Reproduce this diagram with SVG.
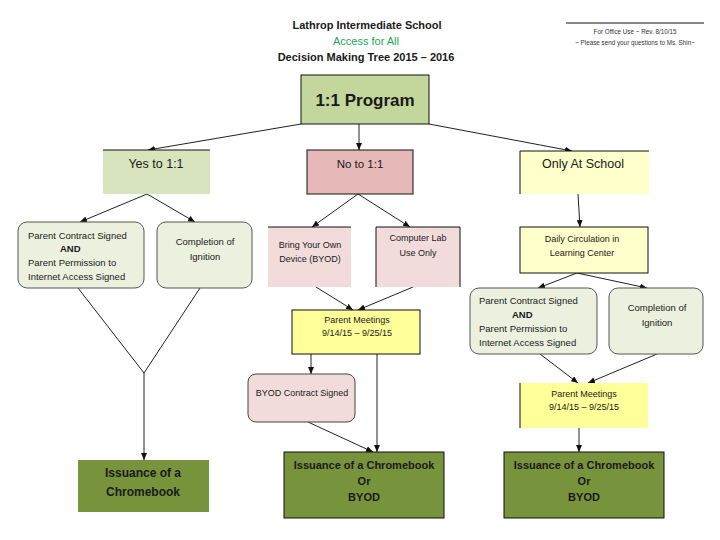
<svg xmlns="http://www.w3.org/2000/svg" width="720" height="540" viewBox="0 0 720 540">
<defs>
<style>
text{font-family:"Liberation Sans",Arial,sans-serif;fill:#1a1a1a;}
.hd{font-size:11px;font-weight:bold;text-anchor:middle;}
.grn{font-size:11px;fill:#1fa55a;text-anchor:middle;}
.tiny{font-size:6.3px;text-anchor:middle;fill:#333;}
.big{font-size:17px;font-weight:bold;text-anchor:middle;}
.lab{font-size:12.5px;text-anchor:middle;}
.sm{font-size:9.5px;}
.smc{font-size:9.5px;text-anchor:middle;}
.xs{font-size:9px;text-anchor:middle;}
.iss{font-size:11px;font-weight:bold;text-anchor:middle;}
.iss2{font-size:12px;font-weight:bold;text-anchor:middle;}
.b{stroke:#111;stroke-width:1;}
.rnd{fill:#ebf1de;stroke:#555;stroke-width:1;}
.pink{fill:#f2dcdb;}
.pm{fill:#ffff99;}
.issf{fill:#77933c;}
.c line,.c polyline{stroke:#222;stroke-width:1;fill:none;}
.c .a{marker-end:url(#ah);}
</style>
<marker id="ah" markerWidth="7" markerHeight="6" refX="7" refY="3" orient="auto" markerUnits="userSpaceOnUse">
<path d="M0,0 L7,3 L0,6 z" fill="#111"/>
</marker>
</defs>
<rect width="720" height="540" fill="#ffffff"/>

<g id="header">
<text class="hd" x="367" y="29">Lathrop Intermediate School</text>
<text class="grn" x="366" y="45">Access for All</text>
<text class="hd" x="366" y="61">Decision Making Tree 2015 – 2016</text>
<line x1="566" y1="23" x2="704" y2="23" stroke="#111" stroke-width="1"/>
<text class="tiny" x="635" y="34">For Office Use ~ Rev. 8/10/15</text>
<text class="tiny" x="635" y="45">~ Please send your questions to Ms. Shin~</text>
</g>

<g class="c" id="connectors">
<line class="a" x1="301" y1="124" x2="148" y2="150"/>
<line class="a" x1="359" y1="124" x2="359" y2="150"/>
<line class="a" x1="429" y1="124" x2="572" y2="151"/>
<line class="a" x1="147" y1="194" x2="80" y2="222"/>
<line class="a" x1="147" y1="194" x2="195" y2="222"/>
<polyline points="78,288 144,373 200,288"/>
<line class="a" x1="144" y1="373" x2="144" y2="460"/>
<line class="a" x1="358" y1="194" x2="312" y2="227"/>
<line class="a" x1="358" y1="194" x2="410" y2="227"/>
<line class="a" x1="316" y1="287" x2="353" y2="310"/>
<line class="a" x1="413" y1="287" x2="358" y2="310"/>
<line class="a" x1="311" y1="354" x2="311" y2="374"/>
<line class="a" x1="377" y1="354" x2="377" y2="452"/>
<line class="a" x1="308" y1="422" x2="373" y2="452"/>
<line class="a" x1="578" y1="194" x2="580" y2="227"/>
<line class="a" x1="577" y1="273" x2="538" y2="288"/>
<line class="a" x1="577" y1="273" x2="647" y2="288"/>
<line class="a" x1="540" y1="354" x2="578" y2="383"/>
<line class="a" x1="657" y1="354" x2="588" y2="383"/>
<line class="a" x1="579" y1="428" x2="579" y2="452"/>
</g>

<g id="program">
<rect x="301" y="75" width="128" height="49" fill="#c3d69b" class="b"/>
<text class="big" x="365" y="106">1:1 Program</text>
</g>

<g id="yes">
<rect x="103" y="150" width="107" height="44" fill="#d7e4bd"/>
<line x1="103" y1="150" x2="210" y2="150" class="b"/>
<text class="lab" x="156" y="168">Yes to 1:1</text>
</g>

<g id="no">
<rect x="307" y="150" width="106" height="44" fill="#e6b9b8" class="b"/>
<text class="lab" x="360" y="168" style="font-size:11.5px">No to 1:1</text>
</g>

<g id="school">
<rect x="520" y="151" width="129" height="43" fill="#ffffcc"/>
<polyline points="520,194 520,151 649,151" fill="none" class="b"/>
<text class="lab" x="583" y="168">Only At School</text>
</g>

<g id="pc-left">
<rect x="18" y="222" width="126" height="66" rx="9" class="rnd"/>
<text class="sm" x="28" y="239">Parent Contract Signed</text>
<text class="sm" x="60" y="252" font-weight="bold">AND</text>
<text class="sm" x="28" y="266">Parent Permission to</text>
<text class="sm" x="28" y="280">Internet Access Signed</text>
</g>

<g id="ign-left">
<rect x="157" y="222" width="95" height="66" rx="9" class="rnd"/>
<text class="smc" x="205" y="245">Completion of</text>
<text class="smc" x="205" y="260">Ignition</text>
</g>

<g id="byod">
<rect x="268" y="227" width="83" height="60" class="pink"/>
<line x1="268" y1="227" x2="351" y2="227" class="b"/>
<text class="xs" x="310" y="248">Bring Your Own</text>
<text class="xs" x="310" y="262">Device (BYOD)</text>
</g>

<g id="lab">
<rect x="376" y="227" width="84" height="60" class="pink"/>
<polyline points="376,287 376,227 460,227 460,287" fill="none" class="b"/>
<text class="xs" x="418" y="241">Computer Lab</text>
<text class="xs" x="418" y="256">Use Only</text>
</g>

<g id="pm-mid">
<rect x="292" y="310" width="128" height="44" class="pm b"/>
<text class="xs" x="357" y="323">Parent Meetings</text>
<text class="xs" x="357" y="336">9/14/15 – 9/25/15</text>
</g>

<g id="byod-contract">
<rect x="248" y="374" width="107" height="48" rx="8" class="pink" stroke="#444" stroke-width="1"/>
<text class="xs" x="302" y="396">BYOD Contract Signed</text>
</g>

<g id="iss-left">
<rect x="78" y="460" width="131" height="52" class="issf"/>
<text class="iss2" x="143" y="477">Issuance of a</text>
<text class="iss2" x="143" y="496">Chromebook</text>
</g>

<g id="iss-mid">
<rect x="284" y="452" width="160" height="66" class="issf b"/>
<text class="iss" x="364" y="469">Issuance of a Chromebook</text>
<text class="iss" x="364" y="485">Or</text>
<text class="iss" x="364" y="501">BYOD</text>
</g>

<g id="daily">
<rect x="520" y="227" width="128" height="46" fill="#ffffcc" class="b"/>
<text class="xs" x="582" y="242">Daily Circulation in</text>
<text class="xs" x="582" y="256">Learning Center</text>
</g>

<g id="pc-right">
<rect x="470" y="288" width="127" height="66" rx="9" class="rnd"/>
<text class="sm" x="479" y="304">Parent Contract Signed</text>
<text class="sm" x="512" y="318" font-weight="bold">AND</text>
<text class="sm" x="479" y="332">Parent Permission to</text>
<text class="sm" x="479" y="346">Internet Access Signed</text>
</g>

<g id="ign-right">
<rect x="609" y="288" width="94" height="66" rx="9" class="rnd"/>
<text class="smc" x="657" y="311">Completion of</text>
<text class="smc" x="657" y="326">Ignition</text>
</g>

<g id="pm-right">
<rect x="520" y="383" width="128" height="45" class="pm"/>
<line x1="520" y1="383" x2="520" y2="428" class="b"/>
<text class="xs" x="584" y="397">Parent Meetings</text>
<text class="xs" x="584" y="410">9/14/15 – 9/25/15</text>
</g>

<g id="iss-right">
<rect x="504" y="452" width="160" height="66" class="issf b"/>
<text class="iss" x="584" y="469">Issuance of a Chromebook</text>
<text class="iss" x="584" y="485">Or</text>
<text class="iss" x="584" y="501">BYOD</text>
</g>
</svg>
